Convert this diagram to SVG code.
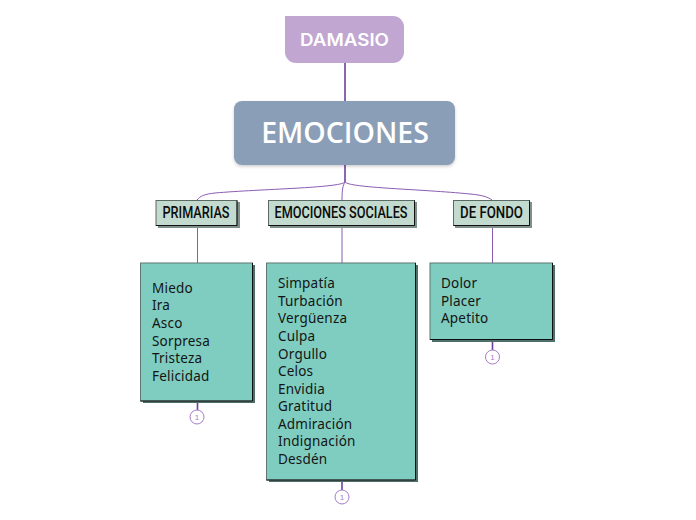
<svg xmlns="http://www.w3.org/2000/svg" width="696" height="520" viewBox="0 0 696 520">
<defs>
<filter id="soft" x="-10%" y="-10%" width="120%" height="125%"><feDropShadow dx="0" dy="1.5" stdDeviation="1.5" flood-color="#000" flood-opacity="0.2"/></filter>
</defs>
<style>
.line{fill:none;stroke:#8a5cb0;stroke-width:1}
.thick{fill:none;stroke:#6f3f9e;stroke-width:1.6}
.head{fill:#c3dbce;stroke:#5a6a65;stroke-width:1}
.hs{fill:#7f8f8a}
.hb{fill:none;stroke:#111;stroke-width:1}
.body{fill:#7fcdc0;stroke:#5f7672;stroke-width:1}
.bs{fill:#4f6f6a}
.bb{fill:none;stroke:#111;stroke-width:1}
.ht{font-family:"Roboto","Liberation Sans",sans-serif;font-weight:500;font-size:16px;fill:#0c0c0c}
.bt{font-family:"Noto Sans","DejaVu Sans",sans-serif;font-size:13.5px;letter-spacing:.2px;fill:#141414}
.c{fill:#fff;stroke:#a67cc6;stroke-width:1}
.ct{font-family:"Liberation Sans",sans-serif;font-size:8px;fill:#a67cc6;text-anchor:middle}
</style>
<g id="connectors">
<path class="thick" d="M345 63V101"/>
<path class="thick" d="M345 165V182"/>
<path class="line" d="M345 182C343 186 342 188 342 200"/>
<path class="line" d="M345 182C340 188 260 189 215 193C205 194 200 196 197 200"/>
<path class="line" d="M345 182C350 188 420 189 470 194C482 195 488 197 492 200"/>
<path class="line" d="M197.500 227V263M342 227V263M492.500 227V263"/>
<path class="thick" d="M197.500 401V410M342 480V490M492.500 341V350"/>
</g>
<g id="damasio">
<path fill="#c1a6d2" d="M285 16H393a11 11 0 0 1 11 11V52a11 11 0 0 1-11 11H296a11 11 0 0 1-11-11Z"/>
<text x="344.500" y="45.500" text-anchor="middle" font-family="Inter,'Open Sans',sans-serif" font-size="17.500" font-weight="600" fill="#fff" textLength="89" lengthAdjust="spacingAndGlyphs">DAMASIO</text>
</g>
<g id="emociones">
<rect x="234" y="101" width="221" height="64" rx="8" fill="#8b9eb7" filter="url(#soft)"/>
<text x="345" y="143" text-anchor="middle" font-family="'Open Sans',sans-serif" font-size="28.500" font-weight="600" fill="#fff">EMOCIONES</text>
</g>
<g id="primarias">
<rect class="hs" x="158" y="202" width="82" height="26"/>
<rect class="head" x="156" y="200.500" width="81" height="25"/>
<path class="hb" d="M237 200.500V225.500H156"/>
<text class="ht" x="196" y="218" text-anchor="middle" textLength="67" lengthAdjust="spacingAndGlyphs">PRIMARIAS</text>
</g>
<g id="sociales">
<rect class="hs" x="270" y="202" width="147" height="26"/>
<rect class="head" x="268.500" y="200.500" width="146" height="25"/>
<path class="hb" d="M414.500 200.500V225.500H268.500"/>
<text class="ht" x="341" y="218" text-anchor="middle" textLength="133" lengthAdjust="spacingAndGlyphs">EMOCIONES SOCIALES</text>
</g>
<g id="defondo">
<rect class="hs" x="455" y="202" width="77" height="26"/>
<rect class="head" x="453.500" y="200.500" width="76" height="25"/>
<path class="hb" d="M529.500 200.500V225.500H453.500"/>
<text class="ht" x="491.500" y="218" text-anchor="middle" textLength="63" lengthAdjust="spacingAndGlyphs">DE FONDO</text>
</g>
<g id="lista1">
<rect class="bs" x="143" y="265" width="112" height="138"/>
<rect class="body" x="140.500" y="263" width="112" height="138"/>
<path class="bb" d="M252.500 263V401H140.500"/>
<text class="bt"><tspan x="152" y="293">Miedo</tspan><tspan x="152" y="310">Ira</tspan><tspan x="152" y="328">Asco</tspan><tspan x="152" y="346">Sorpresa</tspan><tspan x="152" y="363">Tristeza</tspan><tspan x="152" y="381">Felicidad</tspan></text>
</g>
<g id="lista2">
<rect class="bs" x="269" y="265" width="149" height="217"/>
<rect class="body" x="266.500" y="263" width="149" height="217"/>
<path class="bb" d="M415.500 263V480H266.500"/>
<text class="bt"><tspan x="278" y="288">Simpatía</tspan><tspan x="278" y="306">Turbación</tspan><tspan x="278" y="323">Vergüenza</tspan><tspan x="278" y="341">Culpa</tspan><tspan x="278" y="359">Orgullo</tspan><tspan x="278" y="376">Celos</tspan><tspan x="278" y="394">Envidia</tspan><tspan x="278" y="411">Gratitud</tspan><tspan x="278" y="429">Admiración</tspan><tspan x="278" y="446">Indignación</tspan><tspan x="278" y="464">Desdén</tspan></text>
</g>
<g id="lista3">
<rect class="bs" x="432" y="265" width="123" height="77"/>
<rect class="body" x="430" y="263" width="122.500" height="76.500"/>
<path class="bb" d="M552.500 263V339.500H430"/>
<text class="bt"><tspan x="441" y="288">Dolor</tspan><tspan x="441" y="306">Placer</tspan><tspan x="441" y="323">Apetito</tspan></text>
</g>
<g id="contador1"><circle class="c" cx="197" cy="417" r="7"/><text class="ct" x="197" y="420">1</text></g>
<g id="contador2"><circle class="c" cx="342" cy="497" r="7"/><text class="ct" x="342" y="500">1</text></g>
<g id="contador3"><circle class="c" cx="492.500" cy="357" r="7"/><text class="ct" x="492.500" y="360">1</text></g>
</svg>
